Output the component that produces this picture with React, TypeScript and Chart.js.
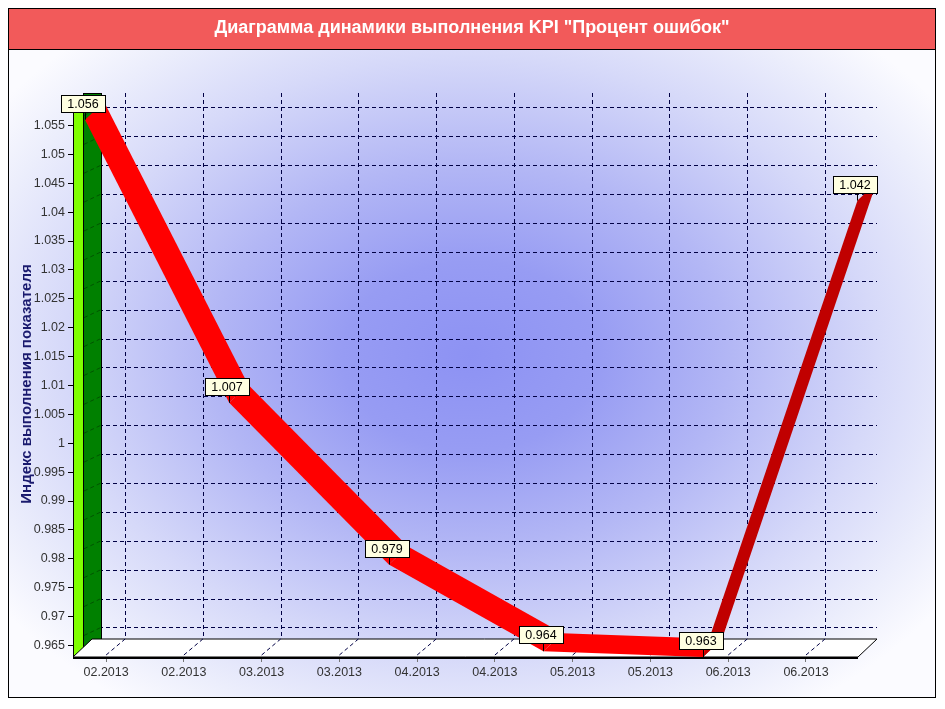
import React, { useEffect, useRef } from "react";
import { Chart, registerables } from "chart.js";

Chart.register(...registerables);

const chartTitle = 'Диаграмма динамики выполнения KPI "Процент ошибок"';
const yAxisTitle = "Индекс выполнения показателя";

const pointDates = ["2013-01-31", "2013-02-28", "2013-03-31", "2013-04-30", "2013-05-31", "2013-06-30"];
const kpiValues = [1.056, 1.007, 0.979, 0.964, 0.963, 1.042];

const xTickLabels = [
  "02.2013", "02.2013", "03.2013", "03.2013", "04.2013",
  "04.2013", "05.2013", "05.2013", "06.2013", "06.2013",
];
const yTickValues = [
  0.965, 0.97, 0.975, 0.98, 0.985, 0.99, 0.995, 1, 1.005, 1.01,
  1.015, 1.02, 1.025, 1.03, 1.035, 1.04, 1.045, 1.05, 1.055,
];

// axis configuration
const Y_MIN = 0.963;
const Y_MAX = 1.0575;
const X_MIN = 27.67;
const X_MAX = 180.1;
const X_TICK_START = 34.1;
const X_TICK_STEP = 15.1;
const DEPTH_X = 19;
const DEPTH_Y = -18;

const FONT = "'Liberation Sans', Arial, sans-serif";

function dayOfYear(s: string): number {
  const [yy, mm, dd] = s.split("-").map(Number);
  return (Date.UTC(yy, mm - 1, dd) - Date.UTC(2013, 0, 1)) / 86400000;
}

const decoPlugin = {
  id: "deco3d",
  beforeDraw(chart: any) {
    const { ctx, width, height } = chart;
    ctx.save();
    ctx.fillStyle = "#ffffff";
    ctx.fillRect(0, 0, width, height);
    // blue glow
    ctx.save();
    ctx.beginPath();
    ctx.rect(0, 41, width, height - 41);
    ctx.clip();
    ctx.translate(462, 348);
    ctx.scale(1, 0.74);
    const g = ctx.createRadialGradient(0, 0, 0, 0, 0, 580);
    g.addColorStop(0, "#8d92f3");
    g.addColorStop(0.22, "#979cf3");
    g.addColorStop(0.45, "#b3b7f5");
    g.addColorStop(0.7, "#d6d9f9");
    g.addColorStop(0.88, "#eceefc");
    g.addColorStop(1, "#fbfbff");
    ctx.fillStyle = g;
    ctx.fillRect(-800, -1000, 1600, 2000);
    ctx.restore();
    // title bar
    ctx.fillStyle = "#F25A5A";
    ctx.fillRect(0, 0, width, 41);
    ctx.strokeStyle = "#000";
    ctx.lineWidth = 1;
    ctx.beginPath();
    ctx.moveTo(0, 41.5);
    ctx.lineTo(width, 41.5);
    ctx.stroke();
    ctx.strokeRect(0.5, 0.5, width - 1, height - 1);
    ctx.fillStyle = "#ffffff";
    ctx.font = "bold 18px " + FONT;
    ctx.textAlign = "center";
    ctx.textBaseline = "middle";
    ctx.fillText(chartTitle, width / 2, 20);
    ctx.restore();
  },
  beforeDatasetsDraw(chart: any) {
    const { ctx, chartArea: a, scales } = chart;
    const x = scales.x;
    const y = scales.y;
    const dx = DEPTH_X;
    const dy = DEPTH_Y;
    ctx.save();
    // back wall grid
    ctx.setLineDash([4, 3]);
    ctx.strokeStyle = "#000044";
    ctx.lineWidth = 1;
    y.ticks.forEach((t: any) => {
      const py = Math.round(y.getPixelForValue(t.value) + dy) + 0.5;
      ctx.beginPath();
      ctx.moveTo(a.left + dx, py);
      ctx.lineTo(a.right + dx, py);
      ctx.stroke();
    });
    x.ticks.forEach((t: any) => {
      const px = Math.round(x.getPixelForValue(t.value) + dx) + 0.5;
      ctx.beginPath();
      ctx.moveTo(px, a.top + dy);
      ctx.lineTo(px, a.bottom + dy);
      ctx.stroke();
    });
    ctx.setLineDash([]);
    // left wall (green)
    ctx.fillStyle = "#008000";
    ctx.fillRect(a.left + 10, a.top + dy, 18, a.bottom - a.top - dy);
    ctx.fillStyle = "#80FF00";
    ctx.fillRect(a.left, a.top, 10, a.bottom - a.top);
    ctx.strokeStyle = "#000";
    ctx.strokeRect(a.left + 10.5, a.top + dy + 0.5, 18, a.bottom - a.top - dy);
    ctx.strokeRect(a.left + 0.5, a.top + 0.5, 10, a.bottom - a.top);
    // faint diagonal grid on green wall
    ctx.setLineDash([4, 3]);
    ctx.strokeStyle = "rgba(0,50,0,0.55)";
    y.ticks.forEach((t: any) => {
      const py = y.getPixelForValue(t.value);
      ctx.beginPath();
      ctx.moveTo(a.left + 11, py - 10);
      ctx.lineTo(a.left + 28, py + dy);
      ctx.stroke();
    });
    ctx.setLineDash([]);
    // floor
    ctx.fillStyle = "#ffffff";
    ctx.strokeStyle = "#000";
    ctx.beginPath();
    ctx.moveTo(a.left, a.bottom);
    ctx.lineTo(a.right, a.bottom);
    ctx.lineTo(a.right + dx, a.bottom + dy);
    ctx.lineTo(a.left + dx, a.bottom + dy);
    ctx.closePath();
    ctx.fill();
    ctx.stroke();
    ctx.setLineDash([4, 3]);
    ctx.strokeStyle = "#000044";
    x.ticks.forEach((t: any) => {
      const px = x.getPixelForValue(t.value);
      ctx.beginPath();
      ctx.moveTo(px, a.bottom - 2);
      ctx.lineTo(px + dx, a.bottom + dy);
      ctx.stroke();
    });
    ctx.setLineDash([]);
    // axis lines
    ctx.strokeStyle = "#000";
    ctx.lineWidth = 2;
    ctx.beginPath();
    ctx.moveTo(a.left, a.bottom + 1);
    ctx.lineTo(a.right, a.bottom + 1);
    ctx.stroke();
    ctx.lineWidth = 1;
    ctx.beginPath();
    ctx.moveTo(a.left + 0.5, a.top);
    ctx.lineTo(a.left + 0.5, a.bottom);
    ctx.stroke();
    ctx.restore();
  },
  afterDatasetsDraw(chart: any) {
    const { ctx } = chart;
    const pts = chart.getDatasetMeta(0).data;
    const dx = DEPTH_X;
    const dy = DEPTH_Y;
    ctx.save();
    for (let i = 0; i < pts.length - 1; i++) {
      const p = pts[i];
      const q = pts[i + 1];
      ctx.fillStyle = q.y > p.y ? "#FF0000" : "#C00000";
      ctx.beginPath();
      ctx.moveTo(p.x, p.y);
      ctx.lineTo(q.x, q.y);
      ctx.lineTo(q.x + dx, q.y + dy);
      ctx.lineTo(p.x + dx, p.y + dy);
      ctx.closePath();
      ctx.fill();
    }
    // value marks
    ctx.font = "12.5px " + FONT;
    ctx.textAlign = "center";
    ctx.textBaseline = "middle";
    pts.forEach((p: any, i: number) => {
      const txt = String(kpiValues[i]);
      const w = Math.round(ctx.measureText(txt).width) + 13;
      const h = 17;
      const cx = Math.round(p.x) - 2;
      const bottom = Math.round(p.y) - 8;
      ctx.strokeStyle = "#000";
      ctx.lineWidth = 1;
      ctx.beginPath();
      ctx.moveTo(Math.round(p.x) + 0.5, bottom);
      ctx.lineTo(Math.round(p.x) + 0.5, p.y);
      ctx.stroke();
      ctx.fillStyle = "#FFFFE1";
      ctx.fillRect(cx - w / 2, bottom - h, w, h);
      ctx.strokeRect(Math.round(cx - w / 2) + 0.5, bottom - h + 0.5, w, h);
      ctx.fillStyle = "#000";
      ctx.fillText(txt, cx, bottom - h / 2 + 1);
    });
    ctx.restore();
  },
};

export default function App() {
  const canvasRef = useRef<HTMLCanvasElement | null>(null);

  useEffect(() => {
    if (!canvasRef.current) return;
    Chart.defaults.font.family = FONT;
    const points = pointDates.map((d, i) => ({ x: dayOfYear(d), y: kpiValues[i] }));
    const chart = new Chart(canvasRef.current, {
      type: "line",
      data: {
        datasets: [
          {
            label: "KPI",
            data: points,
            borderWidth: 0,
            borderColor: "rgba(0,0,0,0)",
            pointRadius: 0,
            showLine: false,
          },
        ],
      },
      plugins: [decoPlugin],
      options: {
        animation: false,
        responsive: true,
        maintainAspectRatio: false,
        events: [],
        layout: { padding: { top: 103, right: 78, left: 0, bottom: 0 } },
        plugins: {
          legend: { display: false },
          tooltip: { enabled: false },
          title: { display: false },
        },
        scales: {
          x: {
            type: "linear",
            min: X_MIN,
            max: X_MAX,
            afterBuildTicks: (axis: any) => {
              axis.ticks = xTickLabels.map((_, i) => ({ value: X_TICK_START + i * X_TICK_STEP }));
            },
            afterFit: (axis: any) => {
              axis.height = 41;
            },
            ticks: {
              autoSkip: false,
              maxRotation: 0,
              minRotation: 0,
              color: "#333",
              font: { size: 12.5 },
              padding: 3,
              callback: (_v: any, i: number) => xTickLabels[i],
            },
            grid: { drawOnChartArea: false, tickLength: 5, color: "#777" },
            border: { display: false },
          },
          y: {
            type: "linear",
            min: Y_MIN,
            max: Y_MAX,
            afterBuildTicks: (axis: any) => {
              axis.ticks = yTickValues.map((v) => ({ value: v }));
            },
            afterFit: (axis: any) => {
              axis.width = 65;
            },
            ticks: {
              autoSkip: false,
              color: "#333",
              font: { size: 12.5 },
              padding: 3,
              callback: (v: any) => String(parseFloat(Number(v).toFixed(3))),
            },
            grid: { drawOnChartArea: false, tickLength: 5, color: "#000" },
            border: { display: false },
            title: {
              display: true,
              text: yAxisTitle,
              color: "#1a1a6e",
              font: { size: 15, weight: "bold" },
              padding: { top: 10, bottom: 0 },
            },
          },
        },
      },
    } as any);
    return () => chart.destroy();
  }, []);

  return (
    <div style={{ width: 928, height: 690, position: "relative" }}>
      <canvas ref={canvasRef} />
    </div>
  );
}
